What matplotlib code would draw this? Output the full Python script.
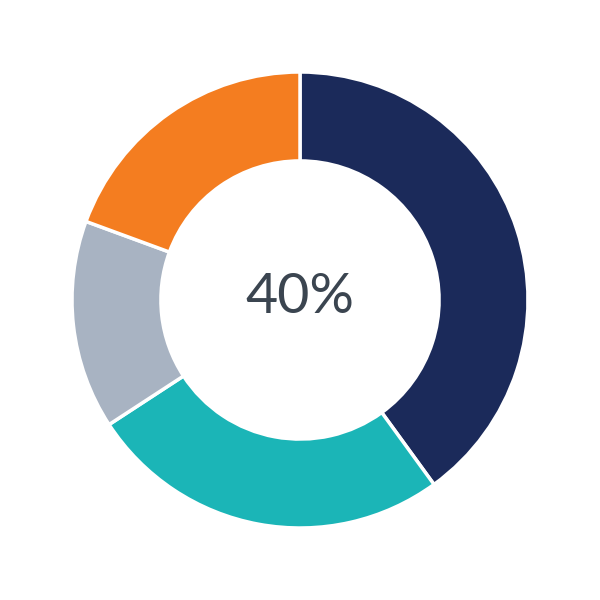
import matplotlib
matplotlib.use("Agg")
import matplotlib.pyplot as plt

# data (shares, in percent)
labels = ["Navy", "Teal", "Gray", "Orange"]
shares = [40, 25.8, 14.8, 19.4]
colores = ["#1b2a5a", "#1bb5b7", "#a8b3c2", "#f47d20"]
center_text = "40%"

fig = plt.figure(figsize=(6, 6), dpi=100)
ax = fig.add_axes([0, 0, 1, 1])

ax.pie(shares, colors=colores, startangle=90, counterclock=False,
       radius=1.0,
       wedgeprops=dict(width=0.39, edgecolor="white", linewidth=2.5))

ax.text(0, 0.01, center_text, ha="center", va="center",
        fontsize=40, color="#3b4550", family=["Lato", "DejaVu Sans"])

lim = 300 / 228
ax.set_xlim(-lim, lim)
ax.set_ylim(-lim, lim)
ax.set_aspect("equal")
ax.axis("off")

fig.savefig("out.png", dpi=100, facecolor="white")
